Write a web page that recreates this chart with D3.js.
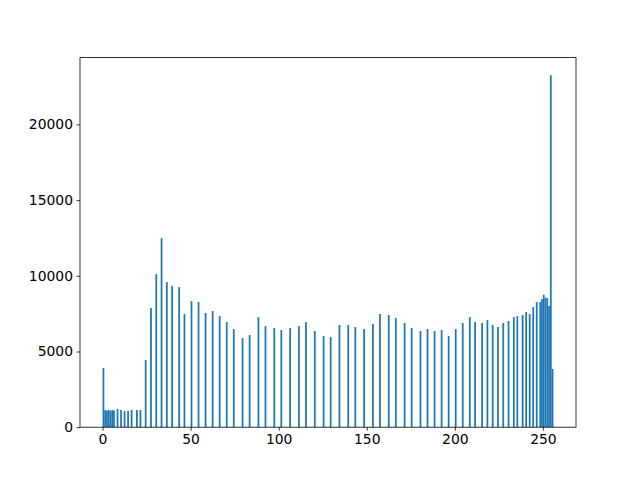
<!DOCTYPE html>
<html>
<head>
<meta charset="utf-8">
<script src="https://cdn.jsdelivr.net/npm/d3@7"></script>
<style>
  body { margin: 0; background: #fff; }
  text { font-family: "DejaVu Sans", sans-serif; }
</style>
</head>
<body>
<div id="chart"></div>
<script>
// histogram bins (pixel value) and their counts
var binValues = [0, 1, 2, 3, 4, 5, 6, 8, 10, 12, 14, 16, 19, 21, 24, 27, 30, 33, 36, 39,
  43, 46, 50, 54, 58, 62, 66, 70, 74, 79, 83, 88, 92, 97, 101, 106, 111, 115, 120, 125,
  129, 134, 139, 143, 148, 153, 157, 162, 166, 171, 175, 180, 184, 188, 192, 196, 200, 204, 208, 211,
  215, 218, 221, 224, 227, 230, 233, 235, 238, 240, 242, 244, 246, 248, 249, 250, 251, 252, 253, 254, 255]
var binCounts = [3900, 1130, 1100, 1140, 1090, 1130, 1110, 1200, 1135, 1070, 1070, 1135, 1135, 1135, 4435, 7868, 10112, 12488, 9584, 9320,
  9254, 7474, 8330, 8264, 7540, 7670, 7340, 6944, 6482, 5887, 6086, 7274, 6680, 6548, 6416, 6548, 6680, 6944, 6350, 6020,
  5953, 6746, 6746, 6614, 6482, 6812, 7474, 7408, 7210, 6878, 6548, 6350, 6482, 6350, 6416, 6020, 6482, 6878, 7274, 6944,
  6878, 7078, 6746, 6614, 6878, 7010, 7274, 7340, 7408, 7606, 7474, 7936, 8264, 8264, 8462, 8750, 8560, 8528, 8000, 23250, 3841]
var xTicks = [0, 50, 100, 150, 200, 250]
var yTicks = [0, 5000, 10000, 15000, 20000]

var width = 640, height = 480
var axLeft = 80, axRight = 576, axTop = 57.6, axBottom = 427.2

var data = binValues.map(function(v, i) { return {bin: v, count: binCounts[i]} })

var svg = d3.select('#chart')
  .append('svg')
  .attr('width', width)
  .attr('height', height)

svg.append('rect').attr('width', width).attr('height', height).attr('fill', '#fff')

// matplotlib style margins: 5% on each side
var x = d3.scaleLinear().domain([-12.8, 268.8]).range([axLeft, axRight])
var yMax = d3.max(binCounts) * 1.05
var y = d3.scaleLinear().domain([0, yMax]).range([axBottom, axTop])

svg.append('g')
  .selectAll('rect')
  .data(data)
  .enter()
  .append('rect')
  .attr('x', function(d) { return x(d.bin) })
  .attr('width', function(d) { return x(d.bin + 1) - x(d.bin) })
  .attr('y', function(d) { return y(d.count) })
  .attr('height', function(d) { return y(0) - y(d.count) })
  .attr('fill', '#1f77b4')

var xAxis = svg.append('g')
  .attr('transform', 'translate(0,' + axBottom + ')')
  .call(d3.axisBottom(x).tickValues(xTicks).tickSize(3.5).tickPadding(3.5).tickFormat(d3.format('d')))
var yAxis = svg.append('g')
  .attr('transform', 'translate(' + axLeft + ',0)')
  .call(d3.axisLeft(y).tickValues(yTicks).tickSize(3.5).tickPadding(3.5).tickFormat(d3.format('d')))

;[xAxis, yAxis].forEach(function(g) {
  g.select('.domain').remove()
  g.selectAll('.tick line').attr('stroke', '#000').attr('stroke-width', 0.8)
  g.selectAll('.tick text').attr('fill', '#000').style('font-size', '13.9px')
})

// frame
svg.append('rect')
  .attr('x', axLeft).attr('y', axTop)
  .attr('width', axRight - axLeft).attr('height', axBottom - axTop)
  .attr('fill', 'none')
  .attr('stroke', '#000')
  .attr('stroke-width', 0.8)
</script>
</body>
</html>
